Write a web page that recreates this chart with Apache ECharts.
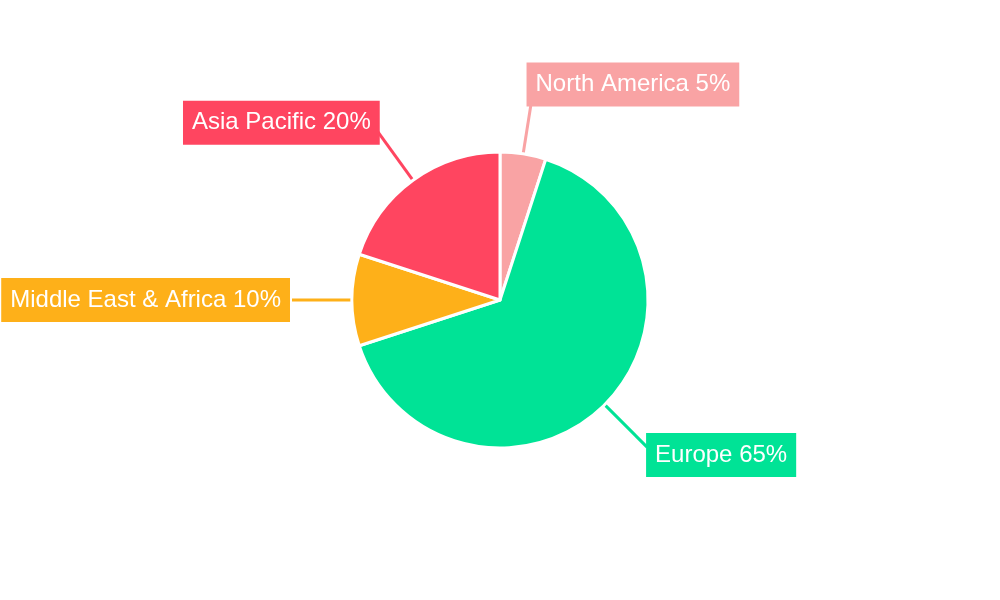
<!DOCTYPE html>
<html>
<head>
<meta charset="utf-8">
<script src="https://cdn.jsdelivr.net/npm/echarts@6/dist/echarts.min.js"></script>
<style>html,body{margin:0;padding:0;background:#fff;}#c{width:1000px;height:600px;}</style>
</head>
<body>
<div id="c"></div>
<script>
const regions = ['North America', 'Europe', 'Middle East & Africa', 'Asia Pacific'];
const shares = [5, 65, 10, 20];
const colors = ['#F9A3A4', '#00E396', '#FEB019', '#FF4560'];

// label nudges (layout only)
const nudge = [[-6, -10], [-1, 8], [-2, 0], [2, -9]];

const chart = echarts.init(document.getElementById('c'), null, {renderer: 'canvas'});
chart.setOption({
  animation: false,
  backgroundColor: '#ffffff',
  series: [{
    type: 'pie',
    center: [500, 300],
    radius: 148,
    startAngle: 90,
    clockwise: true,
    avoidLabelOverlap: false,
    data: regions.map((n, i) => ({
      name: n, value: shares[i],
      itemStyle: {color: colors[i]},
      label: {backgroundColor: colors[i]}
    })),
    itemStyle: {borderColor: '#ffffff', borderWidth: 3},
    label: {
      show: true,
      position: 'outer',
      formatter: '{b} {c}%',
      color: '#ffffff',
      fontFamily: 'Liberation Sans, Arial, sans-serif',
      fontSize: 24,
      padding: [10, 9],
      distanceToLabelLine: 0
    },
    labelLine: {show: true, length: 60, length2: 0, lineStyle: {width: 3}},
    labelLayout: function (p) {
      const d = nudge[p.dataIndex];
      return {dx: d[0], dy: d[1]};
    }
  }]
});
</script>
</body>
</html>
